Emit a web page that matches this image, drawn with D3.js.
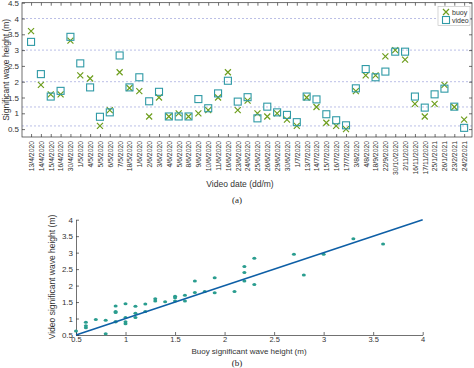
<!DOCTYPE html>
<html><head><meta charset="utf-8">
<script src="https://cdn.jsdelivr.net/npm/d3@7"></script>
<style>
html,body{margin:0;padding:0;background:#fff;}
svg{display:block;font-family:"Liberation Sans",Arial,sans-serif;}
</style></head>
<body><svg id="c" width="474" height="368"></svg>
<script>
const dates = ["13/4/2020","14/4/2020","15/4/2020","16/4/2020","30/4/2020","1/5/2020","4/5/2020","5/5/2020","6/5/2020","7/5/2020","18/5/2020",
"1/6/2020","2/6/2020","3/6/2020","4/6/2020","5/6/2020","8/6/2020","9/6/2020","10/6/2020","11/6/2020","16/6/2020","23/6/2020",
"24/6/2020","25/6/2020","26/6/2020","29/6/2020","30/6/2020","1/7/2020","13/7/2020","14/7/2020","15/7/2020","16/7/2020","17/7/2020",
"3/8/2020","4/8/2020","18/9/2020","22/9/2020","30/10/2020","2/11/2020","16/11/2020","17/11/2020","25/1/2021","26/1/2021","23/2/2021","24/2/2021"];
const buoy = [3.6,1.9,1.6,1.6,3.3,2.2,2.1,0.6,1.1,2.3,1.8,1.7,0.9,1.5,0.9,1.0,0.9,1.0,1.1,1.5,2.3,1.1,
1.4,1.0,0.9,1.0,0.8,0.6,1.5,1.2,0.7,0.6,0.5,1.7,2.2,2.2,2.8,3.0,2.7,1.3,0.9,1.3,1.9,1.2,0.8];
const video = [3.26,2.24,1.53,1.71,3.42,2.58,1.82,0.89,1.03,2.83,1.82,2.14,1.38,1.68,0.90,0.90,0.90,1.45,1.16,1.63,2.03,1.37,
1.51,0.84,1.21,1.03,0.95,0.72,1.53,1.44,0.97,0.78,0.62,1.79,2.40,2.14,2.32,2.95,2.95,1.53,1.18,1.60,1.78,1.21,0.54];
const yTicksA = [0.5,1,1.5,2,2.5,3,3.5,4,4.5];
const gridA = [0.6,1.2,2,3,4];
const ticksB = [0.5,1,1.5,2,2.5,3,3.5,4];
const lineX = [0.5,4];
const lineY = [0.5,4];

const cBuoy = "#6e9e1e", cVideo = "#2f9aa6", cAxis = "#333", cDot = "#2a9d8f", cLine = "#0e5fa6", cGrid = "#a9aee0";
const svg = d3.select("#c");

// ---------- chart (a) ----------
const L=22,R=472,T=2.7,B=137;
const x = d3.scaleLinear().domain([-0.92,44.8]).range([L,R]);
const y = d3.scaleLinear().domain([0.25,4.5]).range([B,T]);
const ga = svg.append("g");
ga.selectAll("line.grid").data(gridA).join("line")
  .attr("x1",L).attr("x2",R).attr("y1",d=>y(d)).attr("y2",d=>y(d))
  .attr("stroke",cGrid).attr("stroke-width",0.8).attr("stroke-dasharray","2,2");
const idx = d3.range(dates.length);
const axB = ga.append("g").attr("transform",`translate(0,${B})`)
  .call(d3.axisBottom(x).tickValues(idx).tickFormat(i=>dates[i]).tickSizeInner(-3).tickSizeOuter(0));
axB.selectAll("text").attr("transform","rotate(-90)").attr("text-anchor","end")
  .attr("x",-4).attr("y",0).attr("dy","0.35em").attr("font-size",6.8).attr("fill",cAxis);
const axT = ga.append("g").attr("transform",`translate(0,${T})`)
  .call(d3.axisTop(x).tickValues(idx).tickFormat("").tickSizeInner(-3).tickSizeOuter(0));
const axL = ga.append("g").attr("transform",`translate(${L},0)`)
  .call(d3.axisLeft(y).tickValues(yTicksA).tickFormat(d3.format("")).tickSizeInner(-3).tickSizeOuter(0));
axL.selectAll("text").attr("x",-3).attr("font-size",8).attr("fill",cAxis);
const axR = ga.append("g").attr("transform",`translate(${R},0)`)
  .call(d3.axisRight(y).tickValues(yTicksA).tickFormat("").tickSizeInner(-3).tickSizeOuter(0));
[axB,axT,axL,axR].forEach(a=>{a.selectAll("path,line").attr("stroke",cAxis).attr("stroke-width",0.7);a.select(".domain").remove();});
ga.append("rect").attr("x",L).attr("y",T).attr("width",R-L).attr("height",B-T)
  .attr("fill","none").attr("stroke",cAxis).attr("stroke-width",0.7);
const s=3;
ga.selectAll("path.buoy").data(buoy).join("path")
  .attr("d",(d,i)=>{const cx=x(i),cy=y(d);return `M${cx-s},${cy-s}L${cx+s},${cy+s}M${cx-s},${cy+s}L${cx+s},${cy-s}`;})
  .attr("stroke",cBuoy).attr("stroke-width",1.2).attr("fill","none");
ga.selectAll("rect.video").data(video).join("rect")
  .attr("x",(d,i)=>x(i)-3.5).attr("y",d=>y(d)-3.5).attr("width",7).attr("height",7)
  .attr("fill","none").attr("stroke",cVideo).attr("stroke-width",1.1);
const lg = ga.append("g");
lg.append("rect").attr("x",438).attr("y",6.5).attr("width",32).attr("height",19).attr("fill","#fff").attr("stroke","#bbb").attr("stroke-width",0.6);
lg.append("path").attr("d",`M${443},${9}L${449},${15}M${443},${15}L${449},${9}`).attr("stroke",cBuoy).attr("stroke-width",1.2);
lg.append("rect").attr("x",442.5).attr("y",16.5).attr("width",7).attr("height",7).attr("fill","none").attr("stroke",cVideo).attr("stroke-width",1.1);
lg.append("text").attr("x",452).attr("y",14.5).attr("font-size",7).attr("fill",cAxis).text("buoy");
lg.append("text").attr("x",452).attr("y",22.5).attr("font-size",7).attr("fill",cAxis).text("video");
ga.append("text").attr("transform",`translate(9,${(T+B)/2}) rotate(-90)`).attr("text-anchor","middle")
  .attr("font-size",8.5).attr("fill",cAxis).text("Significant wave height (m)");
ga.append("text").attr("x",240).attr("y",187).attr("text-anchor","middle").attr("font-size",8.5).attr("fill",cAxis).text("Video date (dd/m)");
ga.append("text").attr("x",237).attr("y",203).attr("text-anchor","middle").attr("font-size",9)
  .attr("font-family","'Liberation Serif','DejaVu Serif',serif").attr("fill","#222").text("(a)");

// ---------- chart (b) ----------
const xb = d3.scaleLinear().domain([0.5,4]).range([76,422.7]);
const yb = d3.scaleLinear().domain([0.5,4]).range([335,219.7]);
const gb = svg.append("g");
const bB = gb.append("g").attr("transform","translate(0,335)")
  .call(d3.axisBottom(xb).tickValues(ticksB).tickFormat(d3.format("")).tickSizeInner(-3).tickSizeOuter(0));
bB.selectAll("text").attr("y",2).attr("font-size",7.5).attr("fill",cAxis);
const bL = gb.append("g").attr("transform","translate(76,0)")
  .call(d3.axisLeft(yb).tickValues(ticksB).tickFormat(d3.format("")).tickSizeInner(-3).tickSizeOuter(0));
bL.selectAll("text").attr("x",-3).attr("font-size",8).attr("fill",cAxis);
[bB,bL].forEach(a=>{a.selectAll("path,line").attr("stroke",cAxis).attr("stroke-width",0.7);});
gb.selectAll("ellipse").data(buoy).join("ellipse")
  .attr("cx",d=>xb(d)).attr("cy",(d,i)=>yb(video[i])).attr("rx",2).attr("ry",1.5).attr("fill",cDot);
gb.append("path").datum(lineX.map((v,i)=>[v,lineY[i]]))
  .attr("d",d3.line().x(d=>xb(d[0])).y(d=>yb(d[1])))
  .attr("stroke",cLine).attr("stroke-width",1.6).attr("fill","none");
gb.append("text").attr("transform","translate(55,277) rotate(-90)").attr("text-anchor","middle")
  .attr("font-size",8.5).attr("fill",cAxis).text("Video significant wave height (m)");
gb.append("text").attr("x",249).attr("y",354).attr("text-anchor","middle").attr("font-size",8).attr("fill",cAxis).text("Buoy significant wave height (m)");
gb.append("text").attr("x",237).attr("y",365.5).attr("text-anchor","middle").attr("font-size",9)
  .attr("font-family","'Liberation Serif','DejaVu Serif',serif").attr("fill","#222").text("(b)");
</script></body></html>
